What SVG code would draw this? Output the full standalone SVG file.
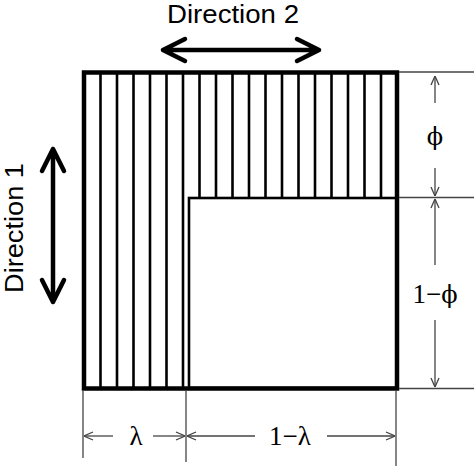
<svg xmlns="http://www.w3.org/2000/svg" width="474" height="466" viewBox="0 0 474 466">
<defs>
<style>
.hatch{stroke:#000;stroke-width:2.6;fill:none}
.thick{stroke:#000;stroke-width:4.5;fill:none}
.inner{stroke:#000;stroke-width:2.6;fill:#fff}
.dir{stroke:#000;stroke-width:4.5;fill:none;stroke-linecap:round;stroke-linejoin:round}
.dim{stroke:#444;stroke-width:1.3;fill:none}
.lab{font-family:"Liberation Sans",Arial,sans-serif;font-size:25px;fill:#000}
.gr{font-family:"Liberation Serif","Times New Roman",serif;font-size:27px;fill:#000}
.phi{font-family:"DejaVu Serif",serif;font-size:24px;fill:#000}
</style>
<marker id="ah" viewBox="0 0 10 10" refX="10" refY="5" markerWidth="10" markerHeight="10" markerUnits="userSpaceOnUse" orient="auto">
<path d="M1,1 L10,5 L1,9" fill="none" stroke="#444" stroke-width="1.3"/>
</marker>
</defs>
<g id="panel">
<g class="hatch">
<line x1="100.5" y1="72" x2="100.5" y2="388"/>
<line x1="117" y1="72" x2="117" y2="388"/>
<line x1="133.5" y1="72" x2="133.5" y2="388"/>
<line x1="150" y1="72" x2="150" y2="388"/>
<line x1="166.5" y1="72" x2="166.5" y2="388"/>
<line x1="183" y1="72" x2="183" y2="388"/>
<line x1="199.5" y1="72" x2="199.5" y2="198"/>
<line x1="216" y1="72" x2="216" y2="198"/>
<line x1="232.5" y1="72" x2="232.5" y2="198"/>
<line x1="249" y1="72" x2="249" y2="198"/>
<line x1="265.5" y1="72" x2="265.5" y2="198"/>
<line x1="282" y1="72" x2="282" y2="198"/>
<line x1="298.5" y1="72" x2="298.5" y2="198"/>
<line x1="315" y1="72" x2="315" y2="198"/>
<line x1="331.5" y1="72" x2="331.5" y2="198"/>
<line x1="348" y1="72" x2="348" y2="198"/>
<line x1="364.5" y1="72" x2="364.5" y2="198"/>
<line x1="381" y1="72" x2="381" y2="198"/>
</g>
<rect class="inner" x="189" y="198" width="208" height="190"/>
<rect class="thick" x="84" y="72.5" width="313" height="316"/>
</g>
<g id="direction2">
<text class="lab" x="233" y="23" text-anchor="middle" textLength="132" lengthAdjust="spacingAndGlyphs">Direction 2</text>
<path class="dir" d="M163,50 L319,50 M185,39 L163,50 L185,61 M297,39 L319,50 L297,61"/>
</g>
<g id="direction1">
<text class="lab" transform="translate(23,228) rotate(-90)" text-anchor="middle" textLength="130" lengthAdjust="spacingAndGlyphs">Direction 1</text>
<path class="dir" d="M53,149 L53,302 M42,171 L53,149 L64,171 M42,280 L53,302 L64,280"/>
</g>
<g id="connectors">
<line class="dim" x1="83" y1="390" x2="83" y2="458"/>
<line class="dim" x1="186" y1="390" x2="186" y2="462"/>
<line class="dim" x1="396" y1="390" x2="396" y2="466"/>
<line class="dim" x1="399" y1="72" x2="474" y2="72"/>
<line class="dim" x1="399" y1="197.5" x2="474" y2="197.5"/>
<line class="dim" x1="399" y1="388.5" x2="474" y2="388.5"/>
<line class="dim" x1="113" y1="436" x2="84" y2="436" marker-end="url(#ah)"/>
<line class="dim" x1="153" y1="436" x2="185" y2="436" marker-end="url(#ah)"/>
<line class="dim" x1="255" y1="436" x2="187" y2="436" marker-end="url(#ah)"/>
<line class="dim" x1="327" y1="436" x2="395" y2="436" marker-end="url(#ah)"/>
<line class="dim" x1="435" y1="103" x2="435" y2="76" marker-end="url(#ah)"/>
<line class="dim" x1="435" y1="168" x2="435" y2="196" marker-end="url(#ah)"/>
<line class="dim" x1="435" y1="265" x2="435" y2="199" marker-end="url(#ah)"/>
<line class="dim" x1="435" y1="320" x2="435" y2="387" marker-end="url(#ah)"/>
</g>
<g id="labels">
<text class="gr" x="136" y="445" text-anchor="middle">λ</text>
<text class="gr" x="290" y="445" text-anchor="middle">1−λ</text>
<text class="phi" x="435" y="145" text-anchor="middle">ϕ</text>
<text class="gr" x="435" y="303" text-anchor="middle">1−<tspan class="phi">ϕ</tspan></text>
</g>
</svg>
